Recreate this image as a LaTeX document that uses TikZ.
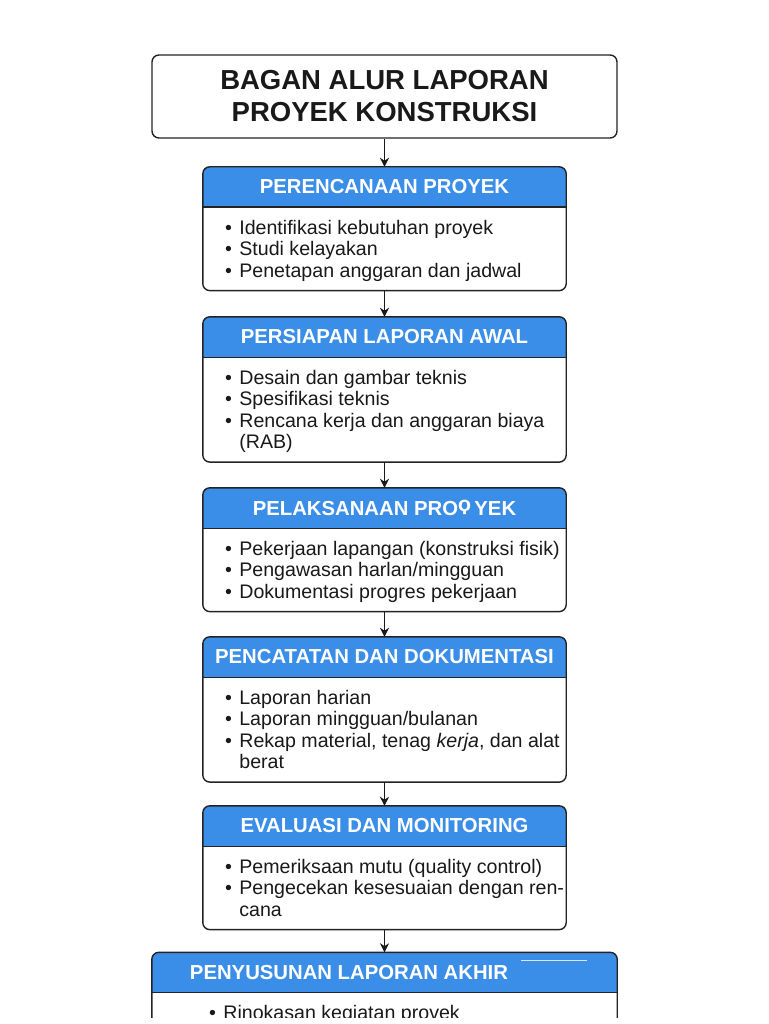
\documentclass[tikz,border=0pt]{standalone}
\usepackage{fontspec}
\setmainfont{Liberation Sans}
\newfontfamily\dejavu{DejaVu Sans}
\usetikzlibrary{positioning,backgrounds,arrows.meta}

\definecolor{biruKepala}{RGB}{59,142,232}
\definecolor{garisKotak}{RGB}{35,35,35}
\definecolor{tinta}{RGB}{25,25,25}

\tikzset{
	judul/.style={draw=garisKotak, line width=1.4pt, rounded corners=7pt,
		minimum width=465pt, minimum height=83pt, align=center, text=tinta,
		font=\fontsize{27.5}{32}\selectfont\bfseries},
	kepala/.style={minimum height=40pt, inner sep=0pt, text=white,
		font=\fontsize{20.3}{24}\selectfont\bfseries},
	isi/.style={anchor=north west, inner ysep=0pt, align=left, text=tinta,
		font=\fontsize{19.6}{21.5}\selectfont},
	bingkai/.style={draw=garisKotak, line width=1.4pt, rounded corners=7pt},
	panah/.style={-{Stealth[length=9pt,width=9pt]}, line width=1.6pt, draw=tinta},
}

\newcommand{\butir}{\textbullet\hspace{7.5pt}}
\newcommand{\lanjut}{\phantom{\textbullet}\hspace{7.5pt}}

% #1 nama, #2 pusat-y kepala, #3 lebar, #4 jarak kiri isi, #5 judul, #6 isi
\newcommand{\tahap}[6]{
	\node[kepala, minimum width=#3] (#1-h) at (384.5,#2) {#5};
	\node[isi, inner xsep=#4] (#1-b) at (#1-h.south west)
		{\rule{0pt}{27pt}#6\rule[-13pt]{0pt}{13pt}};
	\coordinate (#1-k) at (#1-h.south |- #1-b.south);
	\begin{scope}[on background layer]
		\fill[biruKepala] (#1-h.south west) [rounded corners=7pt] -- (#1-h.north west)
			-- (#1-h.north east) [sharp corners] -- (#1-h.south east) -- cycle;
	\end{scope}
	\draw[bingkai] (#1-h.north west) rectangle (#1-h.east |- #1-k);
	\draw[draw=garisKotak, line width=1.4pt] (#1-h.south west) -- (#1-h.south east);
}

\begin{document}
\begin{tikzpicture}[x=1pt,y=-1pt]
	\useasboundingbox (0,0) rectangle (768,1024);
	\clip (0,0) rectangle (768,1017);

	\node[judul] (judul) at (384.5,96.5) {BAGAN ALUR LAPORAN\\PROYEK KONSTRUKSI};

	\tahap{rencana}{187}{363pt}{22pt}{PERENCANAAN PROYEK}
		{\butir Identifikasi kebutuhan proyek\\
		 \butir Studi kelayakan\\
		 \butir Penetapan anggaran dan jadwal}
	\tahap{persiapan}{337}{363pt}{22pt}{PERSIAPAN LAPORAN AWAL}
		{\butir Desain dan gambar teknis\\
		 \butir Spesifikasi teknis\\
		 \butir Rencana kerja dan anggaran biaya\\
		 \lanjut (RAB)}
	\tahap{pelaksanaan}{508}{363pt}{22pt}
		{PELAKSANAAN PRO{\dejavu\bfseries\raisebox{0.3ex}{\scalebox{0.75}{Ϙ}}}\,YEK}
		{\butir Pekerjaan lapangan (konstruksi fisik)\\
		 \butir Pengawasan harlan/mingguan\\
		 \butir Dokumentasi progres pekerjaan}
	\tahap{pencatatan}{657}{363pt}{22pt}{PENCATATAN DAN DOKUMENTASI}
		{\butir Laporan harian\\
		 \butir Laporan mingguan/bulanan\\
		 \butir Rekap material, tenag \textit{kerja}, dan alat\\
		 \lanjut berat}
	\tahap{evaluasi}{826}{363pt}{22pt}{EVALUASI DAN MONITORING}
		{\butir Pemeriksaan mutu (quality control)\\
		 \butir Pengecekan kesesuaian dengan ren-\\
		 \lanjut cana}
	\tahap{penyusunan}{972.5}{465pt}{57pt}{PENYUSUNAN LAPORAN AKHIR\hspace*{71pt}}
		{\butir Rinokasan kegiatan provek}

	% garis tipis di kepala terakhir
	\draw[white, line width=0.5pt, opacity=0.8] (521,960) -- (587,960);

	\draw[panah] (judul) -- (rencana-h);
	\draw[panah] (rencana-k) -- (persiapan-h);
	\draw[panah] (persiapan-k) -- (pelaksanaan-h);
	\draw[panah] (pelaksanaan-k) -- (pencatatan-h);
	\draw[panah] (pencatatan-k) -- (evaluasi-h);
	\draw[panah] (evaluasi-k) -- (penyusunan-h);
\end{tikzpicture}
\end{document}
